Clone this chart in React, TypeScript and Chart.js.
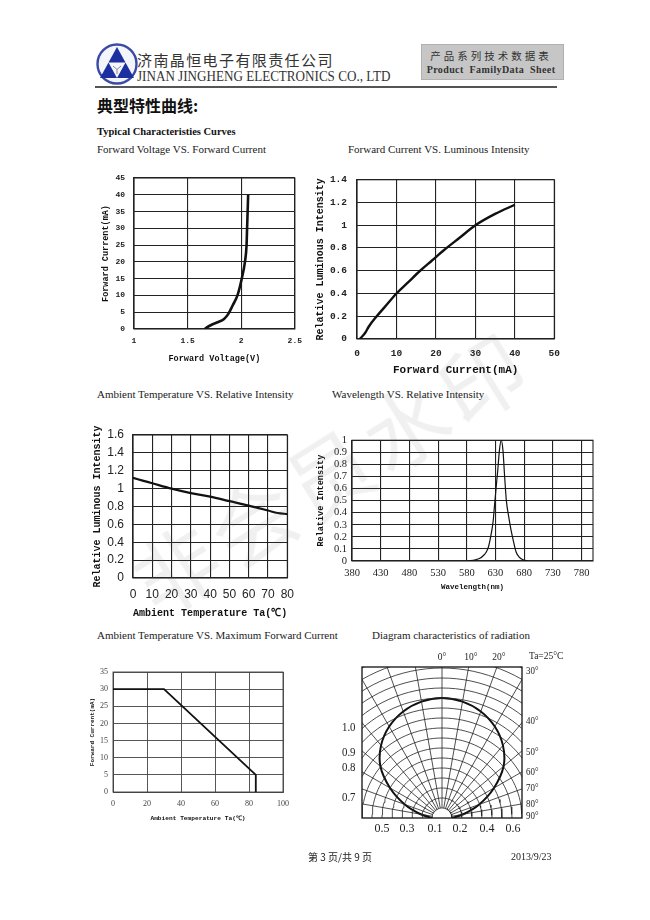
import { useEffect, useRef } from "react";
import { Chart, registerables } from "chart.js";

Chart.register(...registerables);

// ---------------- data ----------------
// 1. Forward Voltage VS. Forward Current
const fvVoltage = [1.66, 1.68, 1.72, 1.78, 1.84, 1.88, 1.92, 1.965, 2.005, 2.035, 2.05, 2.055, 2.06, 2.065];
const fvCurrent = [0, 0.5, 1.2, 2, 3, 4.5, 7, 10, 15, 20, 25, 30, 35, 40];

// 2. Forward Current VS. Luminous Intensity
const liCurrent = [0.7, 2, 3, 5, 7, 10, 13, 16, 19, 22, 26, 30, 35, 40];
const liIntensity = [0, 0.05, 0.11, 0.2, 0.28, 0.4, 0.5, 0.6, 0.69, 0.78, 0.89, 1.0, 1.1, 1.18];

// 3. Ambient Temperature VS. Relative Intensity
const atTemp = [0, 5, 10, 20, 30, 40, 50, 60, 70, 75, 80];
const atIntensity = [1.12, 1.09, 1.06, 1.0, 0.95, 0.91, 0.86, 0.81, 0.755, 0.727, 0.716];

// 4. Wavelength VS. Relative Intensity
const wlNm = [582, 595, 602, 610, 614, 618, 622, 626, 628, 631, 634, 637, 640, 643, 646, 649, 653, 657, 662, 666, 671, 678, 686];
const wlIntensity = [0, 0.01, 0.02, 0.05, 0.075, 0.12, 0.21, 0.33, 0.44, 0.6, 0.75, 0.92, 1.0, 0.92, 0.7, 0.5, 0.37, 0.26, 0.15, 0.075, 0.035, 0.01, 0];
const wavelengthTicks = [380, 430, 480, 530, 580, 630, 680, 730, 780];

// 5. Ambient Temperature VS. Maximum Forward Current
const derTemp = [0, 30, 84, 84];
const derCurrent = [30, 30, 5, 0];

// 6. Radiation diagram
const radiationAngles = [0, 10, 20, 30, 40, 50, 60, 70, 80, 90];
const radiationIntensity = [1.0, 0.985, 0.945, 0.88, 0.79, 0.67, 0.5, 0.33, 0.18, 0.08];
const polarSpokeAngles = [-80, -70, -60, -50, -40, -30, -20, -10, 0, 10, 20, 30, 40, 50, 60, 70, 80];
const polarArcRadii = Array.from({ length: 17 }, (_, k) => (k + 1) / 12);
const polarTopLabels = ["0°", "10°", "20°"];
const polarRightLabels = ["30°", "40°", "50°", "60°", "70°", "80°", "90°"];
const polarLeftLabels = ["1.0", "0.9", "0.8", "0.7"];
const polarBottomLabels = ["0.5", "0.3", "0.1", "0.2", "0.4", "0.6"];

// ---------------- helpers ----------------
const MONO = "'Liberation Mono', 'DejaVu Sans Mono', monospace";
const SERIF = "'Liberation Serif', 'DejaVu Serif', serif";
const CJK = "'Noto Sans CJK SC', sans-serif";

const framePlugin = {
  id: "frame",
  beforeDatasetsDraw(chart: any, _a: any, opts: any) {
    const { ctx, chartArea: a } = chart;
    ctx.save();
    ctx.strokeStyle = opts.color || "#222";
    ctx.lineWidth = opts.width || 1;
    ctx.strokeRect(a.left, a.top, a.right - a.left, a.bottom - a.top);
    ctx.restore();
  },
};

type Box = { left: number; top: number; width: number; height: number };

function ChartCanvas({ box, make }: { box: Box; make: () => any }) {
  const ref = useRef<HTMLCanvasElement>(null);
  useEffect(() => {
    const chart = new Chart(ref.current as HTMLCanvasElement, make());
    return () => chart.destroy();
  }, []);
  return (
    <canvas
      ref={ref}
      width={box.width}
      height={box.height}
      style={{ position: "absolute", left: box.left, top: box.top, width: box.width, height: box.height }}
    />
  );
}

type XY = {
  xs: number[];
  ys: number[];
  xMin: number;
  xMax: number;
  xStep?: number;
  xTicks?: number[];
  yMin: number;
  yMax: number;
  yStep: number;
  yW: number;
  xH: number;
  padTop: number;
  padRight: number;
  tickFont: any;
  tickColor: string;
  xTickPad: number;
  yTickPad: number;
  xTitle: string;
  yTitle: string;
  xTitleFont: any;
  yTitleFont: any;
  xTitlePad: number;
  yTitlePad: number;
  gridColor: string;
  gridWidth: number;
  lineWidth: number;
  smooth: boolean;
};

const plainNum = (v: any) => `${+Number(v).toFixed(3)}`;

function xyConfig(p: XY) {
  const data = p.xs.map((x, i) => ({ x, y: p.ys[i] }));
  const xScale: any = {
    type: "linear",
    min: p.xMin,
    max: p.xMax,
    afterFit: (s: any) => {
      s.height = p.xH;
    },
    ticks: {
      stepSize: p.xStep,
      font: p.tickFont,
      color: p.tickColor,
      padding: p.xTickPad,
      maxRotation: 0,
      autoSkip: false,
      callback: plainNum,
    },
    grid: { color: p.gridColor, lineWidth: p.gridWidth, drawTicks: false },
    border: { display: true, color: p.gridColor, width: p.gridWidth },
    title: {
      display: true,
      text: p.xTitle,
      font: p.xTitleFont,
      color: "#111",
      padding: { top: 0, bottom: p.xTitlePad },
    },
  };
  if (p.xTicks) {
    const t = p.xTicks;
    xScale.afterBuildTicks = (s: any) => {
      s.ticks = t.map((v) => ({ value: v }));
    };
  }
  return {
    type: "scatter",
    data: {
      datasets: [
        {
          data,
          showLine: true,
          borderColor: "#111",
          borderWidth: p.lineWidth,
          pointRadius: 0,
          fill: false,
          tension: 0,
          cubicInterpolationMode: p.smooth ? "monotone" : "default",
        },
      ],
    },
    options: {
      responsive: false,
      animation: false,
      events: [],
      layout: { padding: { left: 0, top: p.padTop, right: p.padRight, bottom: 0 } },
      plugins: {
        legend: { display: false },
        tooltip: { enabled: false },
        frame: { color: p.gridColor, width: p.gridWidth },
      },
      scales: {
        x: xScale,
        y: {
          type: "linear",
          min: p.yMin,
          max: p.yMax,
          afterFit: (s: any) => {
            s.width = p.yW;
          },
          ticks: {
            stepSize: p.yStep,
            font: p.tickFont,
            color: p.tickColor,
            padding: p.yTickPad,
            autoSkip: false,
            callback: plainNum,
          },
          grid: { color: p.gridColor, lineWidth: p.gridWidth, drawTicks: false },
          border: { display: true, color: p.gridColor, width: p.gridWidth },
          title: {
            display: true,
            text: p.yTitle,
            font: p.yTitleFont,
            color: "#111",
            padding: { top: p.yTitlePad, bottom: 0 },
          },
        },
      },
    },
    plugins: [framePlugin],
  };
}

const mono = (size: number) => ({ family: MONO, size, weight: "bold", lineHeight: 1 });

function chart1() {
  return xyConfig({
    xs: fvVoltage, ys: fvCurrent,
    xMin: 1, xMax: 2.5, xStep: 0.5, yMin: 0, yMax: 45, yStep: 5,
    yW: 39, xH: 36, padTop: 7, padRight: 7,
    tickFont: mono(8), tickColor: "#222", xTickPad: 8, yTickPad: 9,
    xTitle: "Forward Voltage(V)", yTitle: "Forward Current(mA)",
    xTitleFont: mono(8.5), yTitleFont: mono(8.5), xTitlePad: 1.75, yTitlePad: 6.75,
    gridColor: "#222", gridWidth: 1.1, lineWidth: 2.6, smooth: true,
  });
}
function chart2() {
  return xyConfig({
    xs: liCurrent, ys: liIntensity,
    xMin: 0, xMax: 50, xStep: 10, yMin: 0, yMax: 1.4, yStep: 0.2,
    yW: 45, xH: 41, padTop: 8, padRight: 10,
    tickFont: mono(9.5), tickColor: "#222", xTickPad: 10, yTickPad: 10,
    xTitle: "Forward Current(mA)", yTitle: "Relative Luminous Intensity",
    xTitleFont: mono(11), yTitleFont: mono(10), xTitlePad: 4.5, yTitlePad: 3,
    gridColor: "#222", gridWidth: 1.1, lineWidth: 2.4, smooth: true,
  });
}
function chart3() {
  return xyConfig({
    xs: atTemp, ys: atIntensity,
    xMin: 0, xMax: 80, xStep: 10, yMin: 0, yMax: 1.6, yStep: 0.2,
    yW: 45, xH: 42, padTop: 12, padRight: 11,
    tickFont: { family: "'Liberation Sans', sans-serif", size: 12, lineHeight: 1 }, tickColor: "#222", xTickPad: 11, yTickPad: 9,
    xTitle: "Ambient Temperature Ta(℃)", yTitle: "Relative Luminous Intensity",
    xTitleFont: mono(11), yTitleFont: mono(10), xTitlePad: 1.5, yTitlePad: 4,
    gridColor: "#222", gridWidth: 1.1, lineWidth: 2.2, smooth: true,
  });
}
function chart4() {
  return xyConfig({
    xs: wlNm, ys: wlIntensity,
    xMin: 380, xMax: 800, xTicks: wavelengthTicks, yMin: 0, yMax: 1, yStep: 0.1,
    yW: 36, xH: 39, padTop: 7, padRight: 10,
    tickFont: { family: SERIF, size: 10.5, lineHeight: 1 }, tickColor: "#222", xTickPad: 7, yTickPad: 5,
    xTitle: "Wavelength(nm)", yTitle: "Relative Intensity",
    xTitleFont: mono(7.5), yTitleFont: mono(8.5), xTitlePad: 9.25, yTitlePad: 0.75,
    gridColor: "#222", gridWidth: 1.1, lineWidth: 1.2, smooth: true,
  });
}
function chart5() {
  return xyConfig({
    xs: derTemp, ys: derCurrent,
    xMin: 0, xMax: 100, xStep: 20, yMin: 0, yMax: 35, yStep: 5,
    yW: 29, xH: 38, padTop: 12, padRight: 9,
    tickFont: { family: SERIF, size: 8, lineHeight: 1 }, tickColor: "#444", xTickPad: 8, yTickPad: 5,
    xTitle: "Ambient Temperature Ta(℃)", yTitle: "Forward Current(mA)",
    xTitleFont: mono(6.2), yTitleFont: mono(6), xTitlePad: 8.9, yTitlePad: 5,
    gridColor: "#444", gridWidth: 0.9, lineWidth: 1.8, smooth: false,
  });
}

function chart6() {
  const datasets: any[] = [];
  const thin = { showLine: true, pointRadius: 0, borderColor: "#222", borderWidth: 0.8, fill: false, tension: 0 };
  for (const r of polarArcRadii) {
    const pts = [];
    for (let a = -90; a <= 90; a += 3) {
      const t = (a * Math.PI) / 180;
      pts.push({ x: r * Math.sin(t), y: r * Math.cos(t) });
    }
    datasets.push({ ...thin, data: pts });
  }
  const r0 = polarArcRadii[0];
  for (const a of polarSpokeAngles) {
    const t = (a * Math.PI) / 180;
    datasets.push({
      ...thin,
      data: [
        { x: r0 * Math.sin(t), y: r0 * Math.cos(t) },
        { x: 2 * Math.sin(t), y: 2 * Math.cos(t) },
      ],
    });
  }
  const pattern: { x: number; y: number }[] = [];
  for (let i = radiationAngles.length - 1; i >= 0; i--) {
    const t = (-radiationAngles[i] * Math.PI) / 180;
    const r = radiationIntensity[i];
    pattern.push({ x: r * Math.sin(t), y: r * Math.cos(t) });
  }
  for (let i = 1; i < radiationAngles.length; i++) {
    const t = (radiationAngles[i] * Math.PI) / 180;
    const r = radiationIntensity[i];
    pattern.push({ x: r * Math.sin(t), y: r * Math.cos(t) });
  }
  datasets.push({ showLine: true, pointRadius: 0, borderColor: "#111", borderWidth: 2, fill: false, tension: 0.3, data: pattern });
  return {
    type: "scatter",
    data: { datasets },
    options: {
      responsive: false,
      animation: false,
      events: [],
      layout: { padding: 10 },
      plugins: { legend: { display: false }, tooltip: { enabled: false }, frame: { color: "#111", width: 1.3 } },
      scales: {
        x: { type: "linear", display: false, min: -80 / 120, max: 80 / 120 },
        y: { type: "linear", display: false, min: 0, max: 151 / 120 },
      },
    },
    plugins: [framePlugin],
  };
}

function Txt({ x, y, size, children, style, center }: any) {
  return (
    <div
      style={{
        position: "absolute",
        left: x,
        top: y - size / 2,
        fontSize: size,
        lineHeight: `${size}px`,
        whiteSpace: "nowrap",
        transform: center ? "translateX(-50%)" : undefined,
        ...style,
      }}
    >
      {children}
    </div>
  );
}

const polarTopX = [442, 471, 499];
const polarRightY = [671, 721, 752, 772, 788, 804, 816];
const polarLeftY = [727, 752, 767, 797];
const polarBottomX = [382, 407, 435, 460, 487, 513];

export default function App() {
  return (
    <div
      style={{
        position: "absolute",
        left: 0,
        top: 0,
        width: 650,
        height: 920,
        background: "#fff",
        overflow: "hidden",
        fontFamily: SERIF,
        color: "#222",
      }}
    >
      {/* logo */}
      <svg width={44} height={44} style={{ position: "absolute", left: 95, top: 42 }} viewBox="0 0 44 44">
        <circle cx={22} cy={22} r={19.5} fill="#f4f5fb" stroke="#3a4aa8" strokeWidth={2.4} />
        <polygon points="22,5 13.5,20.5 30.5,20.5" fill="#1b2f9e" />
        <polygon points="13.5,20.5 5,36 22,36" fill="#1b2f9e" />
        <polygon points="30.5,20.5 22,36 39,36" fill="#1b2f9e" />
        <path d="M18,24 L22,27.5 L26,24 M22,27.5 L22,32" stroke="#888" strokeWidth={1} fill="none" />
      </svg>
      <Txt x={137} y={59} size={15} style={{ fontFamily: CJK, letterSpacing: "1.4px", color: "#333" }}>
        济南晶恒电子有限责任公司
      </Txt>
      <Txt x={137} y={76} size={15.5} style={{ transform: "scaleX(0.845)", transformOrigin: "left center", color: "#333" }}>
        JINAN JINGHENG ELECTRONICS CO., LTD
      </Txt>
      <div
        style={{
          position: "absolute",
          left: 421,
          top: 44,
          width: 141,
          height: 34,
          background: "#c6c6c6",
          border: "1px solid #b0b0b0",
        }}
      />
      <Txt x={491} y={56} size={10.5} center style={{ fontFamily: CJK, letterSpacing: "3px", color: "#333" }}>
        产品系列技术数据表
      </Txt>
      <Txt x={491} y={70} size={10} center style={{ fontWeight: "bold", letterSpacing: "0.4px", wordSpacing: "3px", color: "#333" }}>
        Product FamilyData Sheet
      </Txt>
      <div style={{ position: "absolute", left: 95, top: 86, width: 462, height: 2, background: "#555" }} />
      <Txt x={97} y={105} size={16} style={{ fontFamily: CJK, fontWeight: "bold", color: "#111" }}>
        典型特性曲线:
      </Txt>

      <Txt x={97} y={132} size={10.5} style={{ fontWeight: "bold", color: "#111" }}>
        Typical Characteristies Curves
      </Txt>
      <Txt x={97} y={149} size={11}>Forward Voltage VS. Forward Current</Txt>
      <Txt x={348} y={149} size={11}>Forward Current VS. Luminous Intensity</Txt>
      <Txt x={97} y={394} size={11}>Ambient Temperature VS. Relative Intensity</Txt>
      <Txt x={332} y={394} size={11}>Wavelength VS. Relative Intensity</Txt>
      <Txt x={97} y={635} size={11}>Ambient Temperature VS. Maximum Forward Current</Txt>
      <Txt x={372} y={635} size={11}>Diagram characteristics of radiation</Txt>

      <ChartCanvas box={{ left: 95, top: 165, width: 215, height: 200 }} make={chart1} />
      <ChartCanvas box={{ left: 312, top: 165, width: 258, height: 215 }} make={chart2} />
      <ChartCanvas box={{ left: 88, top: 420, width: 217, height: 200 }} make={chart3} />
      <ChartCanvas box={{ left: 316, top: 430, width: 287, height: 170 }} make={chart4} />
      <ChartCanvas box={{ left: 84, top: 660, width: 213, height: 170 }} make={chart5} />
      <ChartCanvas box={{ left: 352, top: 657, width: 180, height: 171 }} make={chart6} />

      {polarTopLabels.map((t, i) => (
        <Txt key={"t" + i} x={polarTopX[i]} y={658} size={9.5} center>
          {t}
        </Txt>
      ))}
      <Txt x={529} y={657} size={9.5}>
        Ta=25°C
      </Txt>
      {polarRightLabels.map((t, i) => (
        <Txt key={"r" + i} x={526} y={polarRightY[i]} size={10.5} style={{ transform: "scaleX(0.85)", transformOrigin: "left center" }}>
          {t}
        </Txt>
      ))}
      {polarLeftLabels.map((t, i) => (
        <Txt key={"l" + i} x={342} y={polarLeftY[i]} size={12} style={{ transform: "scaleX(0.9)", transformOrigin: "left center" }}>
          {t}
        </Txt>
      ))}
      {polarBottomLabels.map((t, i) => (
        <Txt key={"b" + i} x={polarBottomX[i]} y={828} size={12} center>
          {t}
        </Txt>
      ))}

      <Txt x={308} y={857} size={10} style={{ fontFamily: CJK }}>
        第 3 页/共 9 页
      </Txt>
      <Txt x={511} y={857} size={10}>
        2013/9/23
      </Txt>

      {/* watermark */}
      <div
        style={{
          position: "absolute",
          left: 330,
          top: 470,
          transform: "translate(-50%, -50%) rotate(-32deg)",
          fontFamily: CJK,
          fontSize: 84,
          letterSpacing: "6px",
          color: "rgba(90,90,90,0.09)",
          whiteSpace: "nowrap",
          pointerEvents: "none",
          lineHeight: 1,
        }}
      >
        非会员水印
      </div>
    </div>
  );
}
